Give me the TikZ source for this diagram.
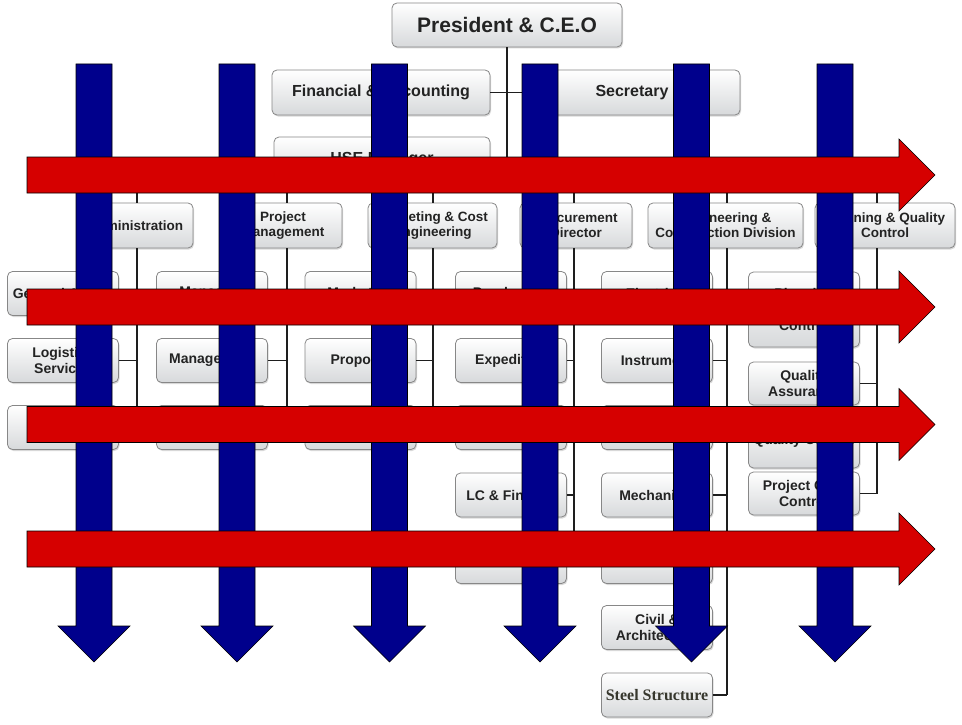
\documentclass[tikz,border=0pt]{standalone}
\usepackage{fontspec}
\setmainfont{Liberation Sans}
\newfontfamily\serifbold{Liberation Serif}
\usetikzlibrary{shadows}
\definecolor{boxedge}{RGB}{135,135,135}
\definecolor{boxbot}{RGB}{215,217,219}
\definecolor{txt}{RGB}{35,35,35}
\definecolor{linec}{RGB}{30,30,30}
\definecolor{navyarrow}{RGB}{0,0,140}
\definecolor{redarrow}{RGB}{214,0,0}
\definecolor{steeltxt}{RGB}{55,55,45}
\begin{document}
\begin{tikzpicture}[x=1pt,y=-1pt,
  box/.style={draw=boxedge, line width=0.8pt, rounded corners=5pt,
    top color=white, bottom color=boxbot, inner sep=0pt, align=center,
    text=txt, font=\bfseries,
    drop shadow={opacity=0.3, shadow xshift=1pt, shadow yshift=-1.5pt}},
  top/.style={box, font=\fontsize{21}{24}\selectfont\bfseries},
  lvone/.style={box, font=\fontsize{16}{18}\selectfont\bfseries},
  lvtwo/.style={box, font=\fontsize{13.5}{15}\selectfont\bfseries},
  lvthree/.style={box, minimum width=111, minimum height=44, font=\fontsize{14}{16}\selectfont\bfseries},
  conn/.style={draw=linec, line width=1.6pt},
  bluearrow/.style={fill=navyarrow, draw=black, line width=0.6pt},
  redarr/.style={fill=redarrow, draw=black, line width=0.6pt}
]
\useasboundingbox (0,0) rectangle (962,725);
\fill[white] (0,0) rectangle (962,725);

% ---------- org chart ----------
\node[top, minimum width=230, minimum height=44] (ceo) at (507,25) {President \& C.E.O};
\node[lvone, minimum width=218, minimum height=45] (fin) at (381,92.5) {Financial \& Accounting};
\node[lvone, minimum width=216, minimum height=45] (sec) at (632,92.5) {Secretary};
\node[lvone, minimum width=216, minimum height=45] (hse) at (382,159.5) {HSE Manager};

\node[lvtwo, minimum width=115, minimum height=45] (adm) at (135.5,225.5) {Administration};
\node[lvtwo, minimum width=118, minimum height=45] (pm) at (283,225.5) {Project\\Management};
\node[lvtwo, minimum width=129, minimum height=45] (mkt) at (432.5,225.5) {Marketing \& Cost\\Engineering};
\node[lvtwo, minimum width=112, minimum height=45] (pro) at (576,225.5) {Procurement\\Director};
\node[lvtwo, minimum width=155, minimum height=45] (eng) at (725.5,225.5) {Engineering \&\\Construction Division};
\node[lvtwo, minimum width=140, minimum height=45] (pqc) at (885,225.5) {Planning \& Quality\\Control};

% level 3
\node[lvthree] (a1) at (63,293.5) {General Affairs};
\node[lvthree] (a2) at (63,360.5) {Logistics\\Services};
\node[lvthree] (a3) at (63,427.5) {Human\\Resources};

\node[lvthree] (p1) at (212,293.5) {Managers};
\node[lvthree] (p2) at (212,360.5) {Management};
\node[lvthree] (p3) at (212,427.5) {Scheduling};

\node[lvthree] (m1) at (360.5,293.5) {Marketing};
\node[lvthree] (m2) at (360.5,360.5) {Proposal};
\node[lvthree] (m3) at (360.5,427.5) {Estimation};

\node[lvthree] (r1) at (511,293.5) {Purchasing};
\node[lvthree] (r2) at (511,360.5) {Expediting};
\node[lvthree] (r3) at (511,427.5) {Inspection};
\node[lvthree] (r4) at (511,495) {LC \& Finance};
\node[lvthree] (r5) at (511,561.5) {Inventory};

\node[lvthree] (e1) at (657,293.5) {Electrical};
\node[lvthree] (e2) at (657,360.5) {Instrument};
\node[lvthree] (e3) at (657,427.5) {Piping};
\node[lvthree] (e4) at (657,495) {Mechanical};
\node[lvthree] (e5) at (657,561.5) {Process};
\node[lvthree] (e6) at (657,627.5) {Civil \&\\Architecture};
\node[lvthree, font=\fontsize{16}{18}\selectfont\serifbold\bfseries, text=steeltxt] (e7) at (657,695) {Steel Structure};

\node[lvthree, minimum height=75] (q1) at (804,309.5) {Planning\\\& Cost\\Control};
\node[lvthree, minimum height=43] (q2) at (804,383.5) {Quality\\Assurance};
\node[lvthree, minimum height=54] (q3) at (804,441) {Quality Control};
\node[lvthree, minimum height=43] (q4) at (804,493.5) {Project Cost\\Control};

% connectors
\coordinate (bus) at (507,185);
\coordinate (admx) at (137,185);
\coordinate (pmx) at (287,185);
\coordinate (mktx) at (433,185);
\coordinate (prox) at (574,185);
\coordinate (engx) at (727,185);
\coordinate (pqcx) at (877,185);

\draw[conn] (ceo.south) -- (bus);
\draw[conn] (fin.east) -- (sec.west);
\draw[conn] (hse.east) -- (hse.east -| ceo.south);
\draw[conn] (admx) -- (pqcx);
\foreach \c/\b in {admx/adm, pmx/pm, mktx/mkt, prox/pro, engx/eng, pqcx/pqc}{
  \draw[conn] (\c) -- (\c |- \b.north);
}
\draw[conn] (admx |- adm.south) -- (admx |- a3.east);
\draw[conn] (pmx |- pm.south) -- (pmx |- p3.east);
\draw[conn] (mktx |- mkt.south) -- (mktx |- m3.east);
\draw[conn] (prox |- pro.south) -- (prox |- r5.east);
\draw[conn] (engx |- eng.south) -- (engx |- e7.east);
\draw[conn] (pqcx |- pqc.south) -- (pqcx |- q4.east);
\foreach \n in {a1,a2,a3}{\draw[conn] (\n.east) -- (\n.east -| admx);}
\foreach \n in {p1,p2,p3}{\draw[conn] (\n.east) -- (\n.east -| pmx);}
\foreach \n in {m1,m2,m3}{\draw[conn] (\n.east) -- (\n.east -| mktx);}
\foreach \n in {r1,r2,r3,r4,r5}{\draw[conn] (\n.east) -- (\n.east -| prox);}
\foreach \n in {e1,e2,e3,e4,e5,e6,e7}{\draw[conn] (\n.east) -- (\n.east -| engx);}
\foreach \n in {q1,q2,q3,q4}{\draw[conn] (\n.east) -- (\n.east -| pqcx);}

% ---------- blue arrows ----------
\foreach \cx in {94,237,389.5,540,691.5,835}{
  \draw[bluearrow] (\cx-18,64) -- (\cx+18,64) -- (\cx+18,626) -- (\cx+36,626)
    -- (\cx,662) -- (\cx-36,626) -- (\cx-18,626) -- cycle;
}
% ---------- red arrows ----------
\foreach \cy in {175,307,424.5,549}{
  \draw[redarr] (27,\cy-18) -- (899,\cy-18) -- (899,\cy-36) -- (935,\cy)
    -- (899,\cy+36) -- (899,\cy+18) -- (27,\cy+18) -- cycle;
}
\end{tikzpicture}
\end{document}
